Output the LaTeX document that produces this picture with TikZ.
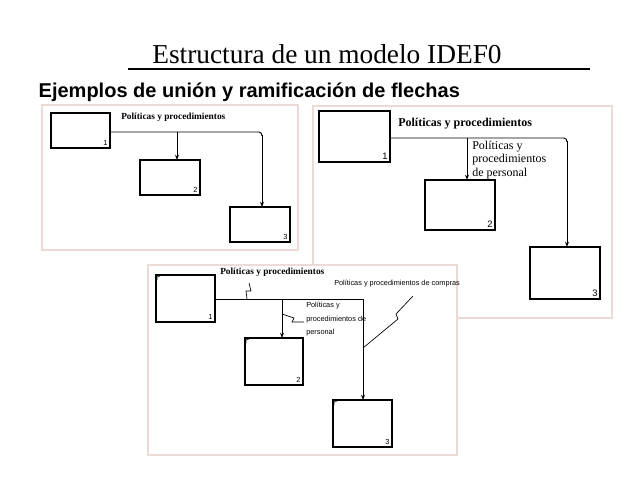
\documentclass[tikz,border=0pt]{standalone}
\usepackage{fontspec}
\setmainfont{Liberation Serif}
\newfontfamily\arialfont{Liberation Sans}
\usetikzlibrary{arrows.meta}
\definecolor{framecol}{RGB}{236, 218, 212}
\tikzstyle{actbox}=[draw=black, line width=0.8pt, inner sep=0pt]
\tikzstyle{frame}=[draw=framecol, line width=0.8pt, fill=white]
\tikzstyle{arrowline}=[line width=0.7pt, -{Stealth[length=4pt,width=3pt]}]
\tikzstyle{flow}=[line width=0.7pt]
\tikzstyle{numlbl}=[font=\arialfont\fontsize{5.5}{6}\selectfont, anchor=south east, inner sep=1.5pt]
\tikzstyle{boldlbl}=[font=\bfseries\fontsize{9}{10}\selectfont, anchor=west, inner sep=0pt]
\tikzstyle{small}=[font=\arialfont\fontsize{5.5}{7}\selectfont, align=left, inner sep=0pt]
\tikzstyle{none}=[]
\begin{document}
\begin{tikzpicture}[x=0.75pt, y=-0.75pt]
    \useasboundingbox (0,0) rectangle (638,478);
    % title
    \node [style=none, font=\fontsize{20.5}{23}\selectfont] (title) at (327, 54) {Estructura de un modelo IDEF0};
    \draw [line width=1.5pt] (128, 69) -- (590, 69);
    \node [style=none, anchor=west, font=\arialfont\bfseries\fontsize{15}{17}\selectfont] (sub) at (34, 92) {Ejemplos de unión y ramificación de flechas};

    % panel A
    \draw [style=frame] (42, 105) rectangle (298, 250);
    \draw [style=actbox] (51, 113) rectangle (110, 148) node [style=numlbl] (a1) {1};
    \draw [style=actbox] (140, 160) rectangle (200, 195) node [style=numlbl] (a2) {2};
    \draw [style=actbox] (230, 207) rectangle (290, 242) node [style=numlbl] (a3) {3};
    \node [style=boldlbl, font=\bfseries\fontsize{7}{8}\selectfont] (ap) at (121, 117) {Políticas y procedimientos};
    \draw [style=flow] (110, 132) -- (259, 132) to [out=0, in=90] (262, 136);
    \draw [style=arrowline] (262, 135) -- (262, 207);
    \draw [style=arrowline] (177, 132) -- (177, 160);

    % panel B
    \draw [style=frame] (313, 106) rectangle (612, 318);
    \draw [style=actbox] (319, 111) rectangle (390, 162) node [style=numlbl, font=\arialfont\fontsize{7}{8}\selectfont] (b1) {1};
    \draw [style=actbox] (425, 180) rectangle (495, 230) node [style=numlbl, font=\arialfont\fontsize{7}{8}\selectfont] (b2) {2};
    \draw [style=actbox] (530, 247) rectangle (600, 299) node [style=numlbl, font=\arialfont\fontsize{7}{8}\selectfont] (b3) {3};
    \node [style=boldlbl] (bp) at (398, 124) {Políticas y procedimientos};
    \draw [style=flow] (390, 138) -- (564, 138) to [out=0, in=90] (567, 142);
    \draw [style=arrowline] (567, 141) -- (567, 247);
    \draw [style=arrowline] (467, 138) -- (467, 180);
    \node [style=none, anchor=north west, align=left, inner sep=0pt, font=\fontsize{9}{10}\selectfont] (bpp) at (472, 141) {Políticas y\\procedimientos\\de personal};

    % panel C
    \draw [style=frame] (148, 265) rectangle (457, 455);
    \draw [style=actbox] (156, 275) rectangle (215, 322) node [style=numlbl] (c1) {1};
    \draw [style=actbox] (245, 338) rectangle (303, 385) node [style=numlbl] (c2) {2};
    \draw [style=actbox] (333, 400) rectangle (392, 447) node [style=numlbl] (c3) {3};
    \foreach \x/\y in {156/275, 245/338, 333/400}
        \draw [line width=0.4pt] (\x+1, \y+5) -- (\x+1, \y+2) -- (\x+4, \y+1);
    \node [style=boldlbl, font=\bfseries\fontsize{7}{8}\selectfont] (cp) at (220, 272) {Políticas y procedimientos};
    \draw [style=flow] (215, 299) -- (363, 299);
    \draw [style=arrowline] (363, 299) -- (363, 400);
    \draw [style=arrowline] (282, 299) -- (282, 338);
    \draw [line width=0.5pt] (249, 283) -- (251, 291) -- (246, 291) -- (247, 299);
    \node [style=small, anchor=west] (cc) at (334, 284) {Políticas y procedimientos de compras};
    \draw [line width=0.5pt] (413, 296) -- (396, 314) -- (398, 319) -- (363, 348);
    \node [style=small, anchor=north west, font=\arialfont\fontsize{5.5}{10}\selectfont] (cpp) at (306, 302) {Políticas y\\procedimientos de\\personal};
    \draw [line width=0.5pt] (282, 314) -- (294, 318) -- (292, 322) -- (304, 322);
\end{tikzpicture}
\end{document}
